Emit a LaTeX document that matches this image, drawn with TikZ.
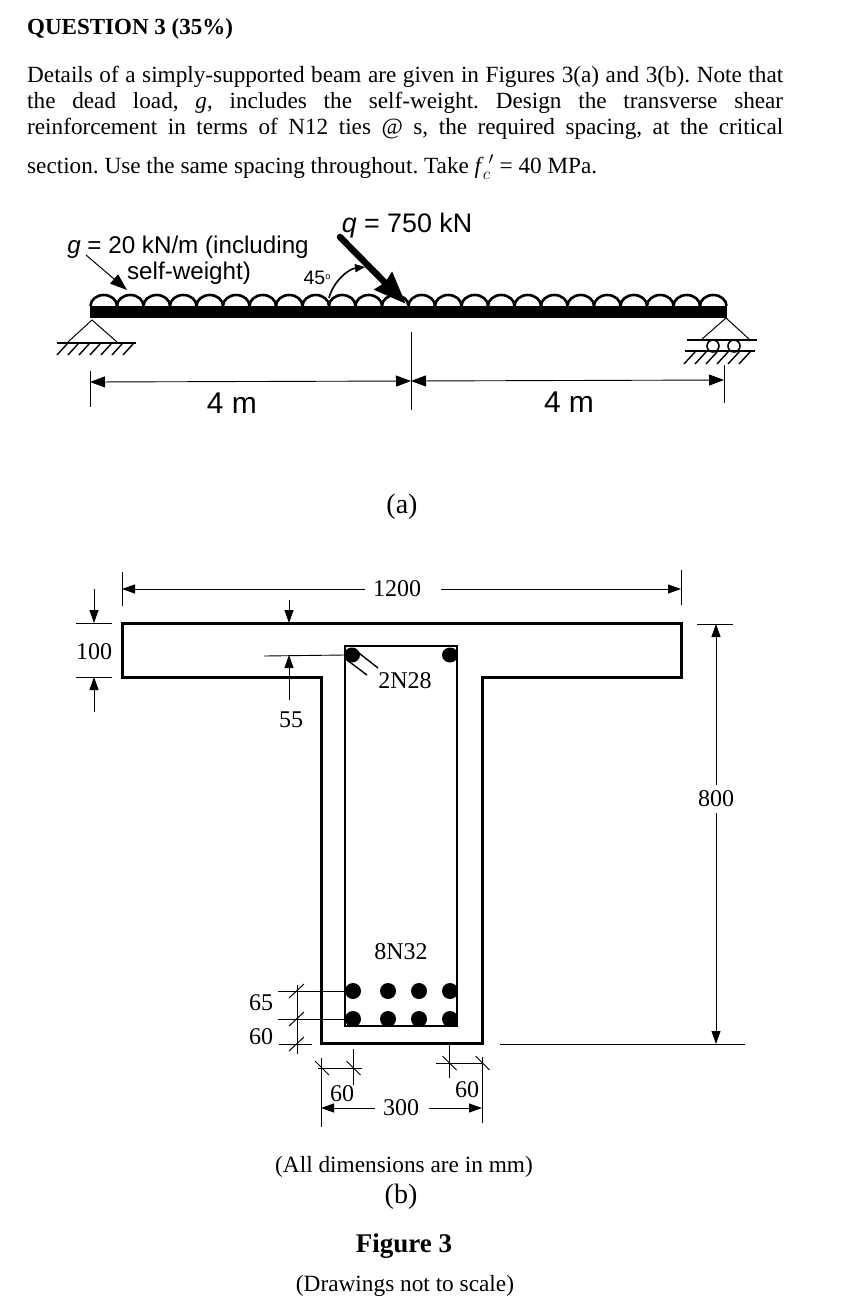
\documentclass[tikz,border=0pt]{standalone}
\usepackage{fontspec}
\setmainfont{Liberation Serif}
\newfontfamily\sansf{Liberation Sans}
\usetikzlibrary{arrows.meta}
\frenchspacing
\tikzset{
  body/.style={anchor=west,inner sep=0pt,font=\fontsize{23.2}{26}\selectfont},
  caption/.style={inner sep=0pt,font=\fontsize{23.3}{26}\selectfont},
  sanslabel/.style={inner sep=0pt,font=\sansf\fontsize{24.2}{27}\selectfont},
  dimlabel/.style={inner sep=0pt,font=\fontsize{24}{26}\selectfont},
  dimline/.style={line width=0.9pt,-{Triangle[length=13pt,width=9pt]}},
  spanline/.style={line width=0.9pt,{Triangle[length=15pt,width=11pt]}-{Triangle[length=15pt,width=11pt]}},
  plain/.style={line width=0.9pt},
  concrete/.style={line width=3pt,line cap=round,line join=miter},
  rebar/.style={fill=black,draw=none},
  tick/.style={line width=1pt},
}
\begin{document}
\begin{tikzpicture}[x=1pt,y=-1pt]
\useasboundingbox (0,0) rectangle (858,1306);
% question text
\node[body,font=\fontsize{23}{26}\selectfont\bfseries] (title) at (27,29) {QUESTION 3 (35\%)};
\node[body] (line1) at (27,77) {\makebox[756pt][s]{Details of a simply-supported beam are given in Figures 3(a) and 3(b). Note that}};
\node[body] (line2) at (27,103) {\makebox[756pt][s]{the dead load, \textit{g}, includes the self-weight. Design the transverse shear}};
\node[body] (line3) at (27,129) {\makebox[756pt][s]{reinforcement in terms of N12 ties @ s, the required spacing, at the critical}};
\node[body] (line4) at (27,167) {section. Use the same spacing throughout. Take \textit{f}\kern2pt$_{\!c}^{\,\prime}$ = 40 MPa.};
% beam
\fill (90,306) rectangle (727,318);
\foreach \i in {0,...,23}
  \draw[line width=2.6pt] ({90.5+26.5*\i},306) arc (180:360:13.25 and 11);
% load labels
\node[sanslabel] (udl1) at (188,247) {\textit{g} = 20 kN/m (including};
\node[sanslabel] (udl2) at (189,273) {self-weight)};
\coordinate (udltip) at (127,290);
\draw[line width=1pt,-{Triangle[length=17pt,width=12pt]}] (86,255) -- (udltip);
\node[sanslabel,font=\sansf\fontsize{26.8}{30}\selectfont] (pload) at (407,226) {\textit{q} = 750 kN};
\coordinate (ptail) at (340,237);
\coordinate (ptip) at (406,304);
\draw[line width=6.5pt,line cap=round,-{Stealth[length=32pt,width=24pt,inset=2pt]}] (ptail) -- (ptip);
\node[sanslabel,font=\sansf\fontsize{19.5}{22}\selectfont] (angle) at (317,278) {45\raisebox{5pt}{\fontsize{9}{9}\selectfont o}};
\draw[line width=1.6pt,-{Triangle[length=10pt,width=8pt]}] (329,298) .. controls (333,282) and (348,269) .. (365,267);
% left support
\draw[line width=1pt] (68,342) -- (92,320) -- (117,342);
\draw[line width=1.6pt] (57,343) -- (136,343);
\foreach \x in {57,68,...,123}
  \draw[line width=1.4pt] (\x+10,344) -- (\x,355);
% right support
\draw[line width=1pt] (702,339) -- (726,318) -- (749,339);
\draw[line width=1.4pt] (687,340) -- (757,340);
\draw[line width=1.6pt] (713,346) circle (6);
\draw[line width=1.6pt] (734,346) circle (6);
\draw[line width=1.8pt] (685,351) -- (755,351);
\foreach \x in {684,695,...,740}
  \draw[line width=1.4pt] (\x+11,352) -- (\x,364);
% span dimensions
\draw[plain] (90,371) -- (90,407);
\draw[plain] (411,332) -- (411,410);
\draw[plain] (724,365) -- (724,403);
\coordinate (spanleft) at (90,382);
\coordinate (spanmid) at (411,381);
\coordinate (spanright) at (724,380);
\draw[spanline] (spanleft) -- (spanmid);
\draw[spanline] (spanmid) -- (spanright);
\node[sanslabel,font=\sansf\fontsize{30}{32}\selectfont] (span1) at (232,403) {4 m};
\node[sanslabel,font=\sansf\fontsize{30}{32}\selectfont] (span2) at (569,402) {4 m};
\node[caption,font=\fontsize{28}{30}\selectfont] (capa) at (402,507) {(a)};
% T section
\draw[concrete] (321,1043) -- (321,677) -- (122,677) -- (122,623) -- (681,623) -- (681,677) -- (482,677) -- (482,1043) -- cycle;
% ties
\draw[concrete,line width=2.6pt] (345,646) rectangle (457,1026);
% bars
\fill[rebar] (352,655) ellipse (8 and 7.5);
\fill[rebar] (450,655) ellipse (8 and 7.5);
\foreach \y in {991,1019}
  \foreach \x in {353,388,419,450}
    \fill[rebar] (\x,\y) circle (8);
\node[dimlabel] (topbars) at (405,681) {2N28};
\node[dimlabel] (botbars) at (401,952) {8N32};
\draw[line width=1.4pt] (355,650) -- (378,668);
\draw[line width=1.4pt] (347,660) -- (367,675);
% 1200
\node[dimlabel] (d1200) at (397,589) {1200};
\draw[plain] (122,572) -- (122,606);
\draw[plain] (681,570) -- (681,605);
\coordinate (flangeL) at (122,589);
\coordinate (flangeR) at (681,589);
\draw[dimline,shorten <=8pt] (d1200.west) -- (flangeL);
\draw[dimline,shorten <=20pt] (d1200.east) -- (flangeR);
% 100
\node[dimlabel] (d100) at (94,652) {100};
\draw[plain] (76,623) -- (112,623);
\draw[plain] (76,677) -- (112,677);
\draw[dimline] (94,589) -- (94,623);
\draw[dimline] (94,712) -- (94,677);
% 55
\node[dimlabel] (d55) at (291,720) {55};
\draw[dimline] (289,600) -- (289,623);
\draw[dimline] (289,700) -- (289,655);
\draw[plain] (264,656) -- (345,655);
% 800
\node[dimlabel] (d800) at (716,799) {800};
\draw[plain] (697,624) -- (733,624);
\draw[plain] (500,1044) -- (745,1044);
\coordinate (depthT) at (716,624);
\coordinate (depthB) at (716,1044);
\draw[dimline,shorten <=6pt] (d800.north) -- (depthT);
\draw[dimline,shorten <=6pt] (d800.south) -- (depthB);
% bar cover
\draw[plain] (297,985) -- (297,1054);
\draw[plain] (278,991) -- (345,991);
\draw[plain] (278,1019) -- (345,1019);
\draw[plain] (279,1044) -- (312,1044);
\foreach \y in {991,1019,1044}
  \draw[tick] (289,\y+7) -- (304,\y-7);
\node[dimlabel] (d65) at (261,1003) {65};
\node[dimlabel] (d60a) at (261,1037) {60};
% width dimensions
\draw[plain] (321,1058) -- (321,1127);
\draw[plain] (353,1049) -- (353,1085);
\draw[plain] (449,1045) -- (449,1078);
\draw[plain] (482,1057) -- (482,1123);
\draw[plain] (318,1068) -- (362,1068);
\draw[plain] (436,1063) -- (482,1063);
\foreach \x in {322,353.5}
  \draw[tick] (\x-7,1061) -- (\x+7,1075);
\foreach \x in {449.5,482.5}
  \draw[tick] (\x-7,1056) -- (\x+7,1070);
\node[dimlabel] (d60b) at (342,1094) {60};
\node[dimlabel] (d60c) at (467,1090) {60};
\node[dimlabel] (d300) at (401,1108) {300};
\coordinate (webL) at (321,1108);
\coordinate (webR) at (482,1108);
\draw[dimline,shorten <=8pt] (d300.west) -- (webL);
\draw[dimline,shorten <=10pt] (d300.east) -- (webR);
% captions
\node[caption] (note) at (404,1167) {(All dimensions are in mm)};
\node[caption,font=\fontsize{28}{30}\selectfont] (capb) at (401,1197) {(b)};
\node[caption,font=\fontsize{27}{28}\selectfont\bfseries] (fig) at (404,1246) {Figure 3};
\node[caption] (scale) at (405,1286) {(Drawings not to scale)};
\end{tikzpicture}
\end{document}
